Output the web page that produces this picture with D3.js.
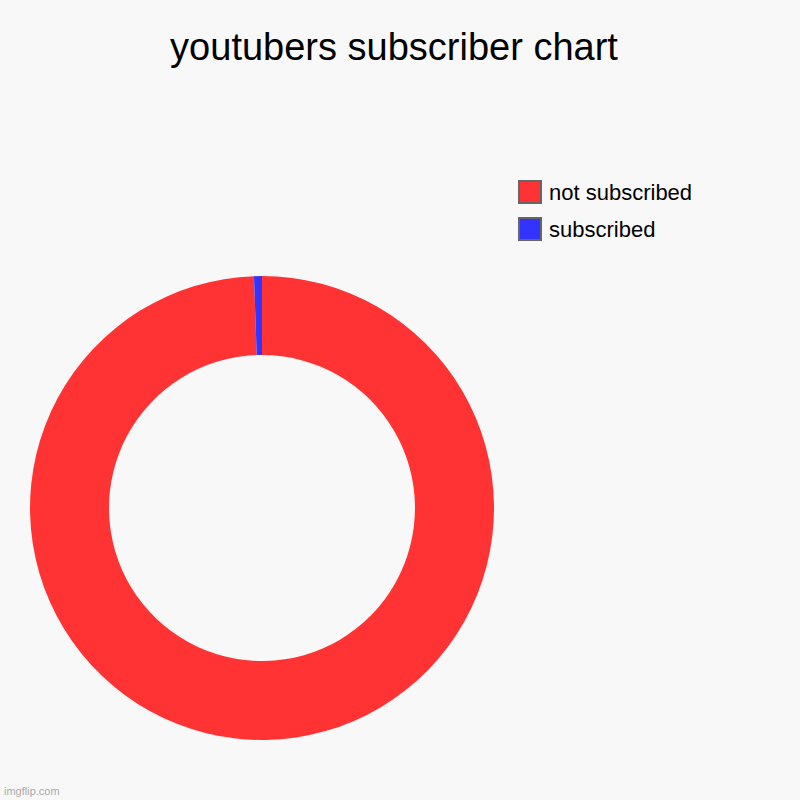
<!DOCTYPE html>
<html>
<head>
<meta charset="utf-8">
<script src="https://cdn.jsdelivr.net/npm/d3@7"></script>
<style>
  body { margin: 0; background: #f8f8f8; }
  svg { display: block; font-family: "Liberation Sans", Arial, sans-serif; }
</style>
</head>
<body>
<div id="chart"></div>
<script>
// data
let labels = ["not subscribed", "subscribed"];
let values = [99.45, 0.55];
let colors = ["#ff3333", "#3333ff"];
let title = "youtubers subscriber chart";

let width = 800, height = 800;
let cx = 262, cy = 508, outerR = 232, innerR = 153;

let svg = d3.select("#chart")
    .append("svg")
    .attr("width", width)
    .attr("height", height);

svg.append("rect")
    .attr("width", width).attr("height", height)
    .attr("fill", "#f8f8f8");

// title
svg.append("text")
    .attr("x", 394).attr("y", 60)
    .attr("text-anchor", "middle")
    .attr("font-size", 38)
    .attr("fill", "#000")
    .text(title);

// donut
let pie = d3.pie().sort(null).value(d => d)(values);
let arc = d3.arc().innerRadius(innerR).outerRadius(outerR);

svg.append("g")
    .attr("transform", "translate(" + cx + "," + cy + ")")
    .selectAll("path")
    .data(pie)
    .join("path")
    .attr("d", arc)
    .attr("fill", (d, i) => colors[i]);

// legend
let legend = svg.append("g").attr("transform", "translate(519,181)");
let item = legend.selectAll("g")
    .data(labels)
    .join("g")
    .attr("transform", (d, i) => "translate(0," + (i * 37) + ")");
item.append("rect")
    .attr("width", 22).attr("height", 22)
    .attr("fill", (d, i) => colors[i])
    .attr("stroke", "#666")
    .attr("stroke-width", 2);
item.append("text")
    .attr("x", 30).attr("y", 19)
    .attr("font-size", 22)
    .attr("fill", "#000")
    .text(d => d);

// watermark
svg.append("text")
    .attr("x", 4).attr("y", 795)
    .attr("font-size", 11)
    .attr("fill", "#aaa")
    .text("imgflip.com");
</script>
</body>
</html>
